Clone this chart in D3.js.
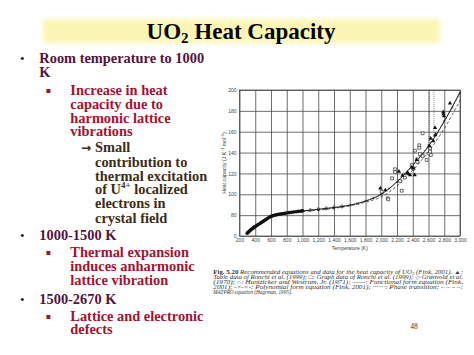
<!DOCTYPE html>
<html><head><meta charset="utf-8">
<script src="https://cdn.jsdelivr.net/npm/d3@7"></script>
<style>body{margin:0;background:#fff}svg{display:block}</style>
</head><body>
<svg id="c" width="474" height="355"></svg>
<script>
// ---------- chart data ----------
const xTickValues = [200,400,600,800,1000,1200,1400,1600,1800,2000,2200,2400,2600,2800,3000];
const yTickValues = [60,80,100,120,140,160,180,200];
const yTickLabels = ["0","80","100","120","140","160","180","200"];

// Functional form equation (Fink, 2001) - solid
const functionalT  = [300,400,500,600,700,800,1000,1200,1400,1600,1800,2000,2200,2400,2600,2800,3000];
const functionalCp = [63,69.5,75,79.5,81.3,82.5,84,85.6,87.3,89.5,93.5,100,112,128,146,170,198];

// Polynomial form equation (Fink, 2001) - dash with x
const polyT  = [300,400,500,600,700,800,900,1000,1100,1200,1300,1400,1500,1600,1700,1800,1900,2000,2100,2200,2300,2400,2500,2600,2700,2800,2900,3000];
const polyCp = [63,69.5,74.5,78.5,80.8,82.2,83.2,84,84.7,85.5,86.3,87.2,88.2,89.5,91.2,93.5,96.5,100,105.5,112,119.5,128,137,147,158,170,183,197];

// MATPRO equation (Hagrman, 1995) - dashed
const matproT  = [300,400,500,600,800,1000,1400,1800,2000,2200,2400,2600,2800,3000];
const matproCp = [64,70.5,75.5,79,82,83.5,86.5,92.5,97.5,108,123,141,163,190];

// Phase transition temperatures - dotted
const phaseT = [2610, 2670];

// Huntzicker and Westrum (1971) - circles
const huntT  = [298,310,320,330,340,350,360,370,380,390,400,420,440,460,480,500,520,540,560,580,600,620,640,660,680,700,720,740,760,780,800,830,860,890,920,950,980,1000];
const huntCp = [62.6,63.5,64.3,65,65.7,66.3,66.9,67.5,68,68.5,69,70,71,72,73,74,75,76,77,78,78.8,79.3,79.8,80.2,80.5,80.8,81.1,81.4,81.6,81.8,82,82.4,82.7,83,83.3,83.6,83.9,84.1];

// Grønvold et al. (1970) - diamonds
const gronT  = [1100,1200,1300,1400,1500];
const gronCp = [84.9,85.7,86.4,87.3,88.4];

// Ronchi et al. (1999) table data - filled triangles
const ronchiTabT  = [1988,2052,2225,2270,2331,2343,2365,2387,2408,2425,2450,2611,2628,2660,2683,2686,2788,2790,2797,2873];
const ronchiTabCp = [105.7,104,121.9,118,120.7,120,118.5,126,125,118.5,133,146.3,153.6,151,163.8,156.8,179,177,175,187.2];

// Ronchi et al. (1999) graph data - open squares
const ronchiGrT  = [2005,2082,2089,2137,2175,2175,2238,2260,2300,2387,2407,2428,2458,2458,2483,2483,2492,2526,2526,2577,2610,2620,2620,2630];
const ronchiGrCp = [102.5,96.1,95.2,115.3,124,121.4,112.7,103.4,116,128,124.5,141.8,133.5,131,147,144.6,138.6,136.7,158.5,132.9,139,144,141,137.7];

const zip = (a,b) => a.map((v,i)=>[v,b[i]]);

// ---------- slide text ----------
const titleMain = "UO", titleSub = "2", titleRest = " Heat Capacity";
const slideLines = [
  {lvl:1, b:true,  t:"Room temperature to 1000", y:63.3},
  {lvl:1, t:"K", y:76.7},
  {lvl:2, b:true,  t:"Increase in heat", y:95},
  {lvl:2, t:"capacity due to", y:108.7},
  {lvl:2, t:"harmonic lattice", y:122.7},
  {lvl:2, t:"vibrations", y:136},
  {lvl:3, b:true, t:"Small", y:151.7},
  {lvl:3, t:"contribution to", y:166.5},
  {lvl:3, t:"thermal excitation", y:180.5},
  {lvl:3, t:"of U", sup:"4+", after:" localized", y:194.3},
  {lvl:3, t:"electrons in", y:208.3},
  {lvl:3, t:"crystal field", y:222.5},
  {lvl:1, b:true, t:"1000-1500 K", y:240},
  {lvl:2, b:true, t:"Thermal expansion", y:257.3},
  {lvl:2, t:"induces anharmonic", y:271.3},
  {lvl:2, t:"lattice vibration", y:285},
  {lvl:1, b:true, t:"1500-2670 K", y:303.5},
  {lvl:2, b:true, t:"Lattice and electronic", y:320.7},
  {lvl:2, t:"defects", y:334.3}
];
const captionLines = [
  [["Fig. 5.20","b"],["   Recommended equations and data for the heat capacity of UO","i"],["2","sub"],[" (Fink, 2001). ▲:","i"]],
  [["Table data of Ronchi et al. (1999); □: Graph data of Ronchi et al. (1999); ◇ Grønvold et al.","i"]],
  [["(1970); ○: Huntzicker and Westrum, Jr. (1971); ——: Functional form equation (Fink,","i"]],
  [["2001); -×-×-: Polynomial form equation (Fink, 2001); ·······: Phase transition; – – – –:","i"]],
  [["MATPRO equation (Hagrman, 1995).","i"]]
];

const svg = d3.select("#c");
const SERIF = "'Liberation Serif','Times New Roman',serif";
const SANS = "'Liberation Sans',Arial,sans-serif";

// title band
const defs = svg.append("defs");
defs.append("filter").attr("id","blur").attr("x","-10%").attr("y","-60%").attr("width","120%").attr("height","220%")
  .append("feGaussianBlur").attr("stdDeviation",2.5);
svg.append("rect").attr("x",43).attr("y",19).attr("width",397).attr("height",24)
  .attr("fill","#fbf6b4").attr("filter","url(#blur)");

const title = svg.append("text").attr("x",241).attr("y",38.5).attr("text-anchor","middle")
  .attr("font-family",SERIF).attr("font-weight","bold").attr("font-size",23).attr("fill","#000");
title.append("tspan").text(titleMain);
title.append("tspan").attr("font-size",15).attr("dy",4).text(titleSub);
title.append("tspan").attr("dy",-4).text(titleRest);

// bullets & text
const col = {1:"#55123d", 2:"#a3122f", 3:"#3b2d14"};
const tx = {1:39.3, 2:70.3, 3:95};
slideLines.forEach(l => {
  if (l.b) {
    if (l.lvl===1) svg.append("text").attr("x",20).attr("y",l.y).attr("font-family",SERIF).attr("font-size",13).attr("fill","#222").text("•");
    if (l.lvl===2) svg.append("text").attr("x",45.5).attr("y",l.y-2).attr("font-family","'DejaVu Sans',sans-serif").attr("font-size",8).attr("fill",col[2]).text("▪");
    if (l.lvl===3) svg.append("text").attr("x",81).attr("y",l.y).attr("font-family","'DejaVu Sans',sans-serif").attr("font-weight","bold").attr("font-size",12).attr("fill",col[3]).text("→");
  }
  const t = svg.append("text").attr("x",tx[l.lvl]).attr("y",l.y).attr("font-family",SERIF)
    .attr("font-weight","bold").attr("font-size",14.4).attr("fill",col[l.lvl]);
  t.append("tspan").text(l.t);
  if (l.sup) {
    t.append("tspan").attr("font-size",9).attr("dy",-6).text(l.sup);
    t.append("tspan").attr("dy",6).text(l.after);
  }
});

// page number
svg.append("text").attr("x",414).attr("y",328.5).attr("text-anchor","middle").attr("font-family",SERIF)
  .attr("font-size",7.5).attr("fill","#333").text("48");

// ---------- chart ----------
const x = d3.scaleLinear().domain([200,3000]).range([239.5,460]);
const y = d3.scaleLinear().domain([60,200]).range([236,90]);
const W = x.range()[1]-x.range()[0], H = y.range()[0]-y.range()[1];

const gx = svg.append("g").attr("transform",`translate(0,${y(60)})`)
  .call(d3.axisBottom(x).tickValues(xTickValues).tickSize(-H).tickSizeOuter(0).tickPadding(2.6));
const gy = svg.append("g").attr("transform",`translate(${x(200)},0)`)
  .call(d3.axisLeft(y).tickValues(yTickValues).tickFormat((d,i)=>yTickLabels[i]).tickSize(-W).tickSizeOuter(0).tickPadding(3));
[gx,gy].forEach(g=>{
  g.select(".domain").remove();
  g.selectAll(".tick line").attr("stroke","#4a4a4a").attr("stroke-width",0.8);
  g.selectAll(".tick text").attr("font-family",SANS).attr("font-size",5).attr("fill","#444");
});
svg.append("rect").attr("x",x(200)).attr("y",y(200)).attr("width",W).attr("height",H)
  .attr("fill","none").attr("stroke","#4a4a4a").attr("stroke-width",0.8);

svg.append("text").attr("x",(x.range()[0]+x.range()[1])/2).attr("y",249.5).attr("text-anchor","middle")
  .attr("font-family",SANS).attr("font-size",5).attr("fill","#444").text("Temperature (K)");
const yl = svg.append("text").attr("transform",`translate(226,${(y.range()[0]+y.range()[1])/2}) rotate(-90)`)
  .attr("text-anchor","middle").attr("font-family",SANS).attr("font-size",5.2).attr("fill","#444");
yl.append("tspan").text("Heat capacity (J K");
yl.append("tspan").attr("font-size",3.5).attr("dy",-1.8).text("−1");
yl.append("tspan").attr("dy",1.8).text(" mol");
yl.append("tspan").attr("font-size",3.5).attr("dy",-1.8).text("−1");
yl.append("tspan").attr("dy",1.8).text(")");

defs.append("clipPath").attr("id","plot").append("rect")
  .attr("x",x(200)).attr("y",y(200)-1).attr("width",W+2).attr("height",H+1);
const plot = svg.append("g").attr("clip-path","url(#plot)");
const line = d3.line().x(d=>x(d[0])).y(d=>y(d[1])).curve(d3.curveMonotoneX);

// phase transition
const fnInterp = T => {
  for (let i=1;i<functionalT.length;i++) if (T<=functionalT[i]) {
    const f=(T-functionalT[i-1])/(functionalT[i]-functionalT[i-1]);
    return functionalCp[i-1]+f*(functionalCp[i]-functionalCp[i-1]);
  }
  return functionalCp[functionalCp.length-1];
};
plot.selectAll(".phase").data(phaseT).join("line")
  .attr("x1",d=>x(d)).attr("x2",d=>x(d)).attr("y1",y(200)).attr("y2",d=>y(fnInterp(d)))
  .attr("stroke","#333").attr("stroke-width",0.7).attr("stroke-dasharray","0.8,1.2");

plot.append("path").datum(zip(matproT,matproCp)).attr("d",line).attr("fill","none")
  .attr("stroke","#222").attr("stroke-width",0.7).attr("stroke-dasharray","3,2");
plot.append("path").datum(zip(polyT,polyCp)).attr("d",line).attr("fill","none")
  .attr("stroke","#222").attr("stroke-width",0.6).attr("stroke-dasharray","2,1.5");
plot.selectAll(".px").data(zip(polyT,polyCp)).join("path")
  .attr("transform",d=>`translate(${x(d[0])},${y(d[1])})`)
  .attr("d",d3.symbol(d3.symbolTimes||d3.symbolCross).size(5)).attr("fill","none").attr("stroke","#222").attr("stroke-width",0.5);
plot.append("path").datum(zip(functionalT,functionalCp)).attr("d",line).attr("fill","none")
  .attr("stroke","#111").attr("stroke-width",0.9);

plot.selectAll(".hc").data(zip(huntT,huntCp)).join("circle")
  .attr("cx",d=>x(d[0])).attr("cy",d=>y(d[1])).attr("r",1.8).attr("fill","#111");
plot.selectAll(".gd").data(zip(gronT,gronCp)).join("path")
  .attr("transform",d=>`translate(${x(d[0])},${y(d[1])})`)
  .attr("d",d3.symbol(d3.symbolDiamond).size(5)).attr("fill","none").attr("stroke","#222").attr("stroke-width",0.5);
plot.selectAll(".sq").data(zip(ronchiGrT,ronchiGrCp)).join("path")
  .attr("transform",d=>`translate(${x(d[0])},${y(d[1])})`)
  .attr("d",d3.symbol(d3.symbolSquare).size(8)).attr("fill","#fff").attr("stroke","#111").attr("stroke-width",0.6);
plot.selectAll(".tr").data(zip(ronchiTabT,ronchiTabCp)).join("path")
  .attr("transform",d=>`translate(${x(d[0])},${y(d[1])})`)
  .attr("d",d3.symbol(d3.symbolTriangle).size(8)).attr("fill","#111");

// caption
const capY = [273.8,278.8,283.8,288.8,293.8];
captionLines.forEach((parts,i)=>{
  const t = svg.append("text").attr("x",213.3).attr("y",capY[i]).attr("font-family",SERIF)
    .attr("font-size",5.2).attr("fill","#333");
  if (i<4) t.attr("textLength",249.7).attr("lengthAdjust","spacingAndGlyphs");
  parts.forEach(([s,st])=>{
    const ts = t.append("tspan").text(s);
    if (st==="b") ts.attr("font-weight","bold");
    if (st==="i") ts.attr("font-style","italic");
    if (st==="sub") ts.attr("font-style","italic").attr("font-size",3.6).attr("dy",1.2);
  });
  // reset baseline after subscript
  t.selectAll("tspan").each(function(d,j,nodes){
    const prev = j>0 ? d3.select(nodes[j-1]) : null;
    if (prev && prev.attr("dy")==="1.2") d3.select(this).attr("dy",-1.2);
  });
});
</script>
</body></html>
